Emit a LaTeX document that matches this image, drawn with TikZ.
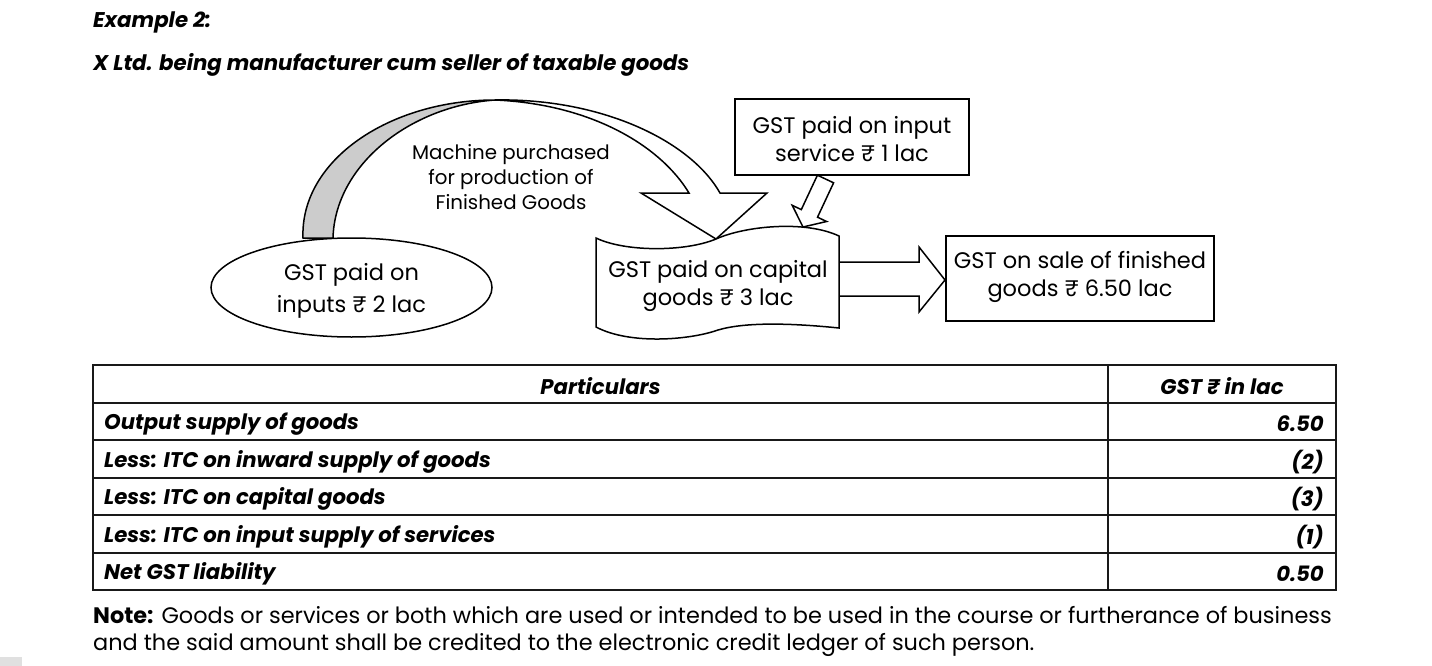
\documentclass[tikz,border=0pt]{standalone}
\usepackage{fontspec}
\setmainfont{Poppins}
\usetikzlibrary{shapes.geometric}
\definecolor{bandgray}{HTML}{CCCCCC}
\begin{document}
\begin{tikzpicture}[x=1pt,y=-1pt,
  outline/.style={draw=black, line width=1.5pt, line join=miter},
  body/.style={font=\fontsize{22.5}{28}\selectfont, align=center, inner sep=0pt},
  titletext/.style={font=\bfseries\itshape\fontsize{21.3}{23}\selectfont, anchor=base west, inner sep=0pt},
  rowtext/.style={font=\bfseries\itshape\fontsize{21.2}{23}\selectfont, inner sep=0pt},
  rule/.style={draw=black!90, line width=2.8pt},
  notetext/.style={font=\fontsize{22.4}{27}\selectfont, anchor=base west, inner sep=0pt}
]
\useasboundingbox (0,0) rectangle (1432,666);
\fill[white] (0,0) rectangle (1432,666);
\fill[black!12] (0,657) rectangle (22,666);

% titles
\node[titletext] (t1) at (93,28) {Example 2:};
\node[titletext] (t2) at (93,71) {X Ltd. being manufacturer cum seller of taxable goods};

% curved ribbon arrow (back side grey, front white)
\path[outline, fill=bandgray] (303,238) .. controls (300,160) and (390,100) .. (495,100)
   .. controls (410,106) and (335,165) .. (333,238) -- cycle;
\path[outline, fill=white] (495,100) .. controls (600,98) and (690,140) .. (720,193)
   -- (767,193) -- (716,239) -- (641,193) -- (689,193)
   .. controls (660,145) and (590,104) .. (495,100) -- cycle;
\node[body, font=\fontsize{19.8}{25}\selectfont] (mach) at (511,177) {Machine purchased\\for production of\\Finished Goods};

% ellipse
\node[outline, ellipse, minimum width=281, minimum height=99, inner sep=0pt, fill=white] (inp) at (351.5,287.5) {};
\node[body, font=\fontsize{22.5}{32}\selectfont] (inptxt) at (351.5,291) {GST paid on\\inputs ₹ 2 lac};

% top box
\node[outline, rectangle, minimum width=234, minimum height=76, fill=white] (serv) at (852,137) {};
\node[body] (servtxt) at (852,139) {GST paid on input\\service ₹ 1 lac};

% small block arrow from service box
\path[outline, fill=white] (817.4,175.2) -- (833.6,182.8) -- (817.5,217.2) -- (826.6,221.5)
   -- (803.0,227.0) -- (792.2,205.3) -- (801.3,209.6) -- cycle;

% right block arrow
\path[outline, fill=white] (839,262) -- (919,262) -- (919,247) -- (945,280) -- (919,312) -- (919,296) -- (839,296);

% document (punched tape) shape
\path[outline, fill=white] (596,238) .. controls (625,252) and (685,252) .. (716,239)
   .. controls (745,226) and (805,220) .. (839,236) -- (839,328)
   .. controls (790,323) and (745,322) .. (718,330)
   .. controls (690,340) and (630,345) .. (596,327) -- cycle;
\node[body] (cap) at (718,286) {GST paid on capital\\goods ₹ 3 lac};

% sale box
\node[outline, rectangle, minimum width=268, minimum height=85, fill=white] (sale) at (1080,278.5) {};
\node[body] (saletxt) at (1080,277) {GST on sale of finished\\goods ₹ 6.50 lac};

% table
\draw[rule] (93,365) rectangle (1336,590);
\foreach \yy in {403,440,478,515,553} \draw[rule] (93,\yy) -- (1336,\yy);
\draw[rule] (1108,365) -- (1108,590);
\node[rowtext] (h1) at (600.5,386) {Particulars};
\node[rowtext] (h2) at (1222,386) {GST ₹ in lac};
\node[rowtext, anchor=west] (r1) at (104,424) {Output supply of goods};
\node[rowtext, anchor=west] (r2) at (104,462) {Less: ITC on inward supply of goods};
\node[rowtext, anchor=west] (r3) at (104,499) {Less: ITC on capital goods};
\node[rowtext, anchor=west] (r4) at (104,537) {Less: ITC on input supply of services};
\node[rowtext, anchor=west] (r5) at (104,574) {Net GST liability};
\node[rowtext, anchor=east] (v1) at (1324,424) {6.50};
\node[rowtext, anchor=east] (v2) at (1324,462) {(2)};
\node[rowtext, anchor=east] (v3) at (1324,499) {(3)};
\node[rowtext, anchor=east] (v4) at (1324,537) {(1)};
\node[rowtext, anchor=east] (v5) at (1324,574) {0.50};

% note
\node[notetext] (n1) at (93,623) {\textbf{Note:} Goods or services or both which are used or intended to be used in the course or furtherance of business};
\node[notetext] (n2) at (93,650) {and the said amount shall be credited to the electronic credit ledger of such person.};
\end{tikzpicture}
\end{document}
